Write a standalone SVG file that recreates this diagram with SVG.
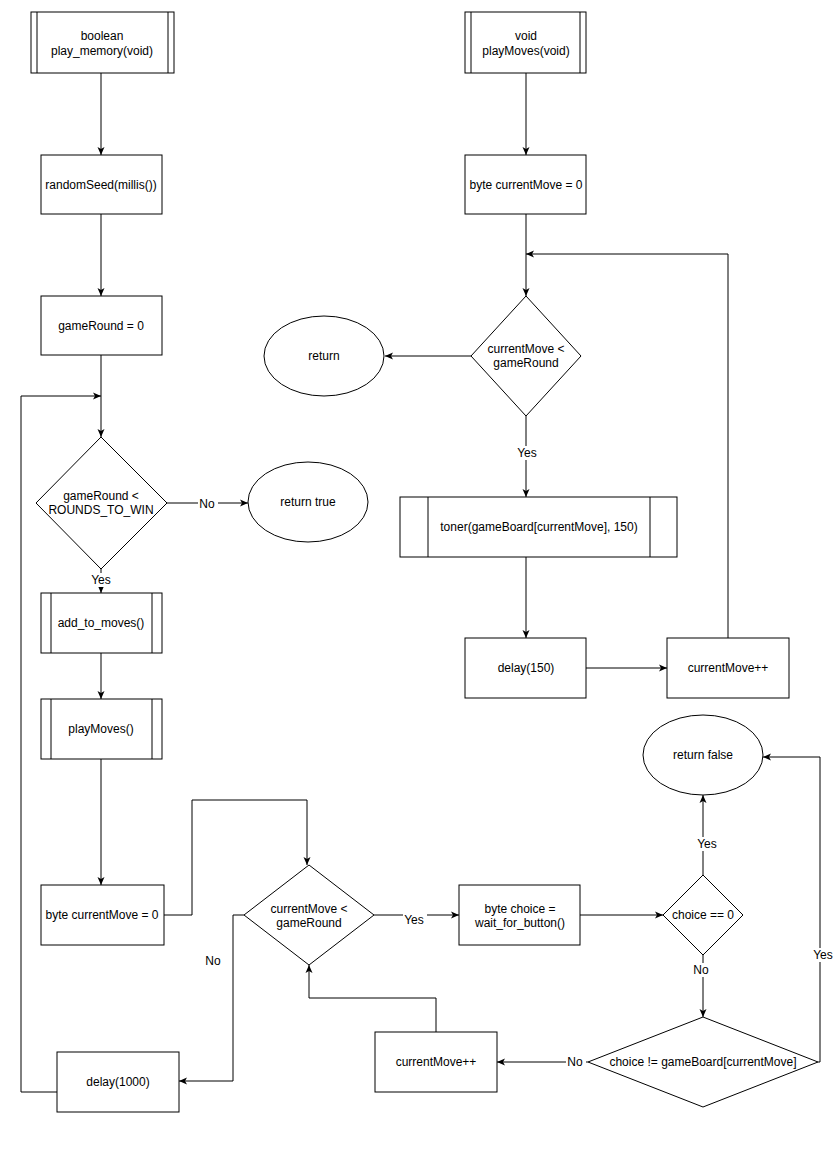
<svg xmlns="http://www.w3.org/2000/svg" width="834" height="1151" viewBox="0 0 834 1151">
<style>
.s{fill:#fff;stroke:#000;stroke-width:1}
.c{fill:none;stroke:#000;stroke-width:1}
text{font-family:"Liberation Sans",Arial,sans-serif;font-size:12px;fill:#000;text-anchor:middle;dominant-baseline:central}
.l{fill:#000}
</style>
<defs><marker id="a" markerWidth="10" markerHeight="10" refX="9" refY="5" orient="auto" markerUnits="userSpaceOnUse"><path d="M1,1.5 L9,5 L1,8.5 L3,5 Z" fill="#000"/></marker></defs>
<rect width="834" height="1151" fill="#fff"/>
<g id="connectors">
<path class="c" d="M101,73 V155" marker-end="url(#a)"/>
<path class="c" d="M101,214 V296" marker-end="url(#a)"/>
<path class="c" d="M101,355 V437" marker-end="url(#a)"/>
<path class="c" d="M57,1092 H21 V396 H101" marker-end="url(#a)"/>
<path class="c" d="M167,503 H248" marker-end="url(#a)"/>
<path class="c" d="M101,569 V593" marker-end="url(#a)"/>
<path class="c" d="M101,653 V699" marker-end="url(#a)"/>
<path class="c" d="M101,759 V885" marker-end="url(#a)"/>
<path class="c" d="M164,915 H192 V800 H307 V865" marker-end="url(#a)"/>
<path class="c" d="M374,915 H459" marker-end="url(#a)"/>
<path class="c" d="M580,915 H663" marker-end="url(#a)"/>
<path class="c" d="M703,875 V795" marker-end="url(#a)"/>
<path class="c" d="M703,955 V1017" marker-end="url(#a)"/>
<path class="c" d="M818,1062 H820 V757 H763" marker-end="url(#a)"/>
<path class="c" d="M588,1062 H497" marker-end="url(#a)"/>
<path class="c" d="M436,1032 V998 H309 V965" marker-end="url(#a)"/>
<path class="c" d="M244,915 H233 V1081 H179" marker-end="url(#a)"/>
<path class="c" d="M526,73 V155" marker-end="url(#a)"/>
<path class="c" d="M526,214 V296" marker-end="url(#a)"/>
<path class="c" d="M728,638 V254 H526" marker-end="url(#a)"/>
<path class="c" d="M471,356 H385" marker-end="url(#a)"/>
<path class="c" d="M526,416 V497" marker-end="url(#a)"/>
<path class="c" d="M526,557 V638" marker-end="url(#a)"/>
<path class="c" d="M586,668 H667" marker-end="url(#a)"/>
<rect x="198" y="496" width="20" height="15" fill="#fff"/><text x="207" y="504">No</text>
<rect x="90" y="573" width="22" height="14" fill="#fff"/><text x="101" y="580">Yes</text>
<rect x="403" y="912" width="24" height="14" fill="#fff"/><text x="414" y="920">Yes</text>
<rect x="696" y="837" width="22" height="14" fill="#fff"/><text x="707" y="844">Yes</text>
<rect x="691" y="963" width="20" height="14" fill="#fff"/><text x="701" y="970">No</text>
<rect x="812" y="948" width="22" height="14" fill="#fff"/><text x="823" y="955">Yes</text>
<rect x="566" y="1055" width="20" height="14" fill="#fff"/><text x="575" y="1062">No</text>
<text x="213" y="961">No</text>
<rect x="516" y="446" width="22" height="14" fill="#fff"/><text x="527" y="453">Yes</text>
</g>
<g id="n1"><rect class="s" x="31" y="12" width="143" height="61"/><path class="c" d="M37,12V73M168,12V73"/><text x="102" y="36">boolean</text><text x="102" y="51">play_memory(void)</text></g>
<g id="n2"><rect class="s" x="41" y="155" width="121" height="59"/><text x="101" y="185">randomSeed(millis())</text></g>
<g id="n3"><rect class="s" x="41" y="296" width="121" height="59"/><text x="101" y="326">gameRound = 0</text></g>
<g id="n4"><path class="s" d="M101,437 L167,503 L101,569 L36,503 Z"/><text x="101" y="496">gameRound &lt;</text><text x="101" y="510">ROUNDS_TO_WIN</text></g>
<g id="n5"><ellipse class="s" cx="308" cy="502" rx="60" ry="40"/><text x="308" y="502">return true</text></g>
<g id="n6"><rect class="s" x="41" y="593" width="121" height="60"/><path class="c" d="M51,593V653M152,593V653"/><text x="101" y="623">add_to_moves()</text></g>
<g id="n7"><rect class="s" x="41" y="699" width="121" height="60"/><path class="c" d="M51,699V759M152,699V759"/><text x="101" y="729">playMoves()</text></g>
<g id="n8"><rect class="s" x="41" y="885" width="123" height="60"/><text x="102" y="915">byte currentMove = 0</text></g>
<g id="n9"><path class="s" d="M309,865 L374,915 L309,965 L244,915 Z"/><text x="309" y="909">currentMove &lt;</text><text x="309" y="923">gameRound</text></g>
<g id="n10"><rect class="s" x="459" y="885" width="121" height="60"/><text x="520" y="909">byte choice =</text><text x="520" y="923">wait_for_button()</text></g>
<g id="n11"><path class="s" d="M703,875 L743,915 L703,955 L663,915 Z"/><text x="703" y="915">choice == 0</text></g>
<g id="n12"><ellipse class="s" cx="703" cy="755" rx="60" ry="40"/><text x="703" y="755">return false</text></g>
<g id="n13"><path class="s" d="M703,1017 L818,1062 L703,1107 L588,1062 Z"/><text x="703" y="1062">choice != gameBoard[currentMove]</text></g>
<g id="n14"><rect class="s" x="375" y="1032" width="122" height="60"/><text x="436" y="1062">currentMove++</text></g>
<g id="n15"><rect class="s" x="57" y="1052" width="122" height="60"/><text x="118" y="1082">delay(1000)</text></g>
<g id="n16"><rect class="s" x="465" y="12" width="121" height="61"/><path class="c" d="M471,12V73M580,12V73"/><text x="526" y="36">void</text><text x="526" y="51">playMoves(void)</text></g>
<g id="n17"><rect class="s" x="465" y="155" width="121" height="59"/><text x="526" y="185">byte currentMove = 0</text></g>
<g id="n18"><path class="s" d="M526,296 L581,356 L526,416 L471,356 Z"/><text x="526" y="349">currentMove &lt;</text><text x="526" y="363">gameRound</text></g>
<g id="n19"><ellipse class="s" cx="324" cy="356" rx="60" ry="40"/><text x="324" y="356">return</text></g>
<g id="n20"><rect class="s" x="400" y="497" width="277" height="60"/><path class="c" d="M428,497V557M650,497V557"/><text x="539" y="527">toner(gameBoard[currentMove], 150)</text></g>
<g id="n21"><rect class="s" x="465" y="638" width="121" height="60"/><text x="526" y="668">delay(150)</text></g>
<g id="n22"><rect class="s" x="667" y="638" width="122" height="60"/><text x="728" y="668">currentMove++</text></g>
</svg>
